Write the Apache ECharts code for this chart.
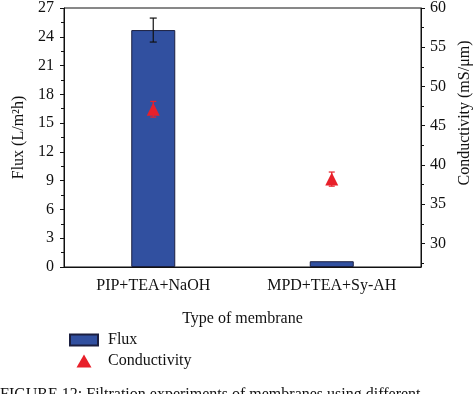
<!DOCTYPE html>
<html><head><meta charset="utf-8">
<script src="https://cdn.jsdelivr.net/npm/echarts@6/dist/echarts.min.js"></script>
<style>html,body{margin:0;padding:0;background:#fff}#c{width:474px;height:394px}</style>
</head><body><div id="c"></div>
<script>
var categories = ['PIP+TEA+NaOH', 'MPD+TEA+Sy-AH'];
var fluxValues = [24.7, 0.6];
var fluxErr = [1.25, 0];
var condValues = [47.1, 38.2];
var condErr = [1.0, 0.9];
var leftTicks = [0, 27, 3];
var rightTickLabels = [30, 35, 40, 45, 50, 55, 60];
var rightMinorTicks = [27.5, 32.5, 37.5, 42.5, 47.5, 52.5, 57.5];

var FONT = 'Liberation Serif';
var chart = echarts.init(document.getElementById('c'));

function errItem(color, capW) {
  return function (params, api) {
    var x = api.value(0), lo = api.value(1), hi = api.value(2);
    var p1 = api.coord([x, hi]), p2 = api.coord([x, lo]);
    var st = {stroke: color, lineWidth: 1.2};
    return {type: 'group', children: [
      {type: 'line', shape: {x1: p1[0], y1: p1[1], x2: p2[0], y2: p2[1]}, style: st},
      {type: 'line', shape: {x1: p1[0]-capW, y1: p1[1], x2: p1[0]+capW, y2: p1[1]}, style: st},
      {type: 'line', shape: {x1: p2[0]-capW, y1: p2[1], x2: p2[0]+capW, y2: p2[1]}, style: st}
    ]};
  };
}

var fluxErrData = categories.map(function (c, i) {
  return fluxErr[i] > 0 ? [i, fluxValues[i]-fluxErr[i], fluxValues[i]+fluxErr[i]] : null;
}).filter(Boolean);
var condErrData = categories.map(function (c, i) { return [i, condValues[i]-condErr[i], condValues[i]+condErr[i]]; });

var axisText = {color: '#111', fontFamily: FONT, fontSize: 16};

chart.setOption({
  animation: false,
  textStyle: {fontFamily: FONT},
  grid: {left: 64, right: 53, top: 6, bottom: 127, show: true, borderColor: '#111', borderWidth: 1},
  xAxis: {
    type: 'category', data: categories,
    name: 'Type of membrane', nameLocation: 'middle', nameGap: 44,
    nameTextStyle: axisText,
    axisLine: {lineStyle: {color: '#111', width: 1}},
    axisTick: {alignWithLabel: true, length: 5, lineStyle: {color: '#111'}},
    axisLabel: Object.assign({margin: 11}, axisText)
  },
  yAxis: [{
    type: 'value', min: leftTicks[0], max: leftTicks[1], interval: leftTicks[2],
    name: 'Flux (L/m²h)', nameLocation: 'middle', nameGap: 28,
    nameTextStyle: axisText,
    axisLine: {show: true, lineStyle: {color: '#111'}},
    axisTick: {show: true, length: 4, lineStyle: {color: '#111'}},
    minorTick: {show: true, splitNumber: 2, length: 3, lineStyle: {color: '#111'}},
    splitLine: {show: false},
    axisLabel: Object.assign({margin: 10}, axisText)
  }, {
    type: 'value', min: 27, max: 60, position: 'right',
    axisLine: {show: true, lineStyle: {color: '#111'}},
    axisTick: {show: true, length: 4, customValues: rightTickLabels, lineStyle: {color: '#111'}},
    splitLine: {show: false},
    axisLabel: Object.assign({margin: 9, customValues: rightTickLabels}, axisText)
  }, {
    type: 'value', min: 27, max: 60, position: 'right',
    axisLine: {show: false},
    axisTick: {show: true, length: 3, customValues: rightMinorTicks, lineStyle: {color: '#111'}},
    splitLine: {show: false},
    axisLabel: {show: false}
  }],
  legend: {
    orient: 'vertical', left: 64, top: 327, itemWidth: 28, itemHeight: 13, itemGap: 5,
    symbolKeepAspect: true,
    textStyle: {color: '#111', fontFamily: FONT, fontSize: 16, padding: [0, 0, 0, 5]},
    data: [
      {name: 'Flux', icon: 'path://M0,0H28V11H0Z'},
      {name: 'Conductivity', icon: 'path://M7.5,0L15,13L0,13Z'}
    ]
  },
  series: [{
    name: 'Flux', type: 'bar', data: fluxValues, barWidth: 44, yAxisIndex: 0,
    itemStyle: {color: '#3150a0', borderColor: '#1b1f40', borderWidth: 1}
  }, {
    name: 'fluxErr', type: 'custom', yAxisIndex: 0, data: fluxErrData,
    renderItem: errItem('#111', 3.5), z: 3, silent: true
  }, {
    name: 'condErr', type: 'custom', yAxisIndex: 1, data: condErrData,
    renderItem: errItem('#e8202a', 3), z: 3, silent: true
  }, {
    name: 'Conductivity', type: 'scatter', yAxisIndex: 1,
    data: condValues.map(function (v, i) { return [i, v]; }),
    symbol: 'triangle', symbolSize: [13, 13], z: 5,
    itemStyle: {color: '#e8202a', opacity: 1}
  }],
  graphic: [{
    type: 'text', x: 465, y: 113, rotation: Math.PI / 2,
    style: {text: 'Conductivity (mS/μm)', fill: '#111', font: '16px "Liberation Serif"', align: 'center', verticalAlign: 'middle'}
  }, {
    type: 'text', left: 0, top: 387,
    style: {text: 'FIGURE 12: Filtration experiments of membranes using different', fill: '#111', font: '16px "Liberation Serif"'}
  }]
});
</script></body></html>
